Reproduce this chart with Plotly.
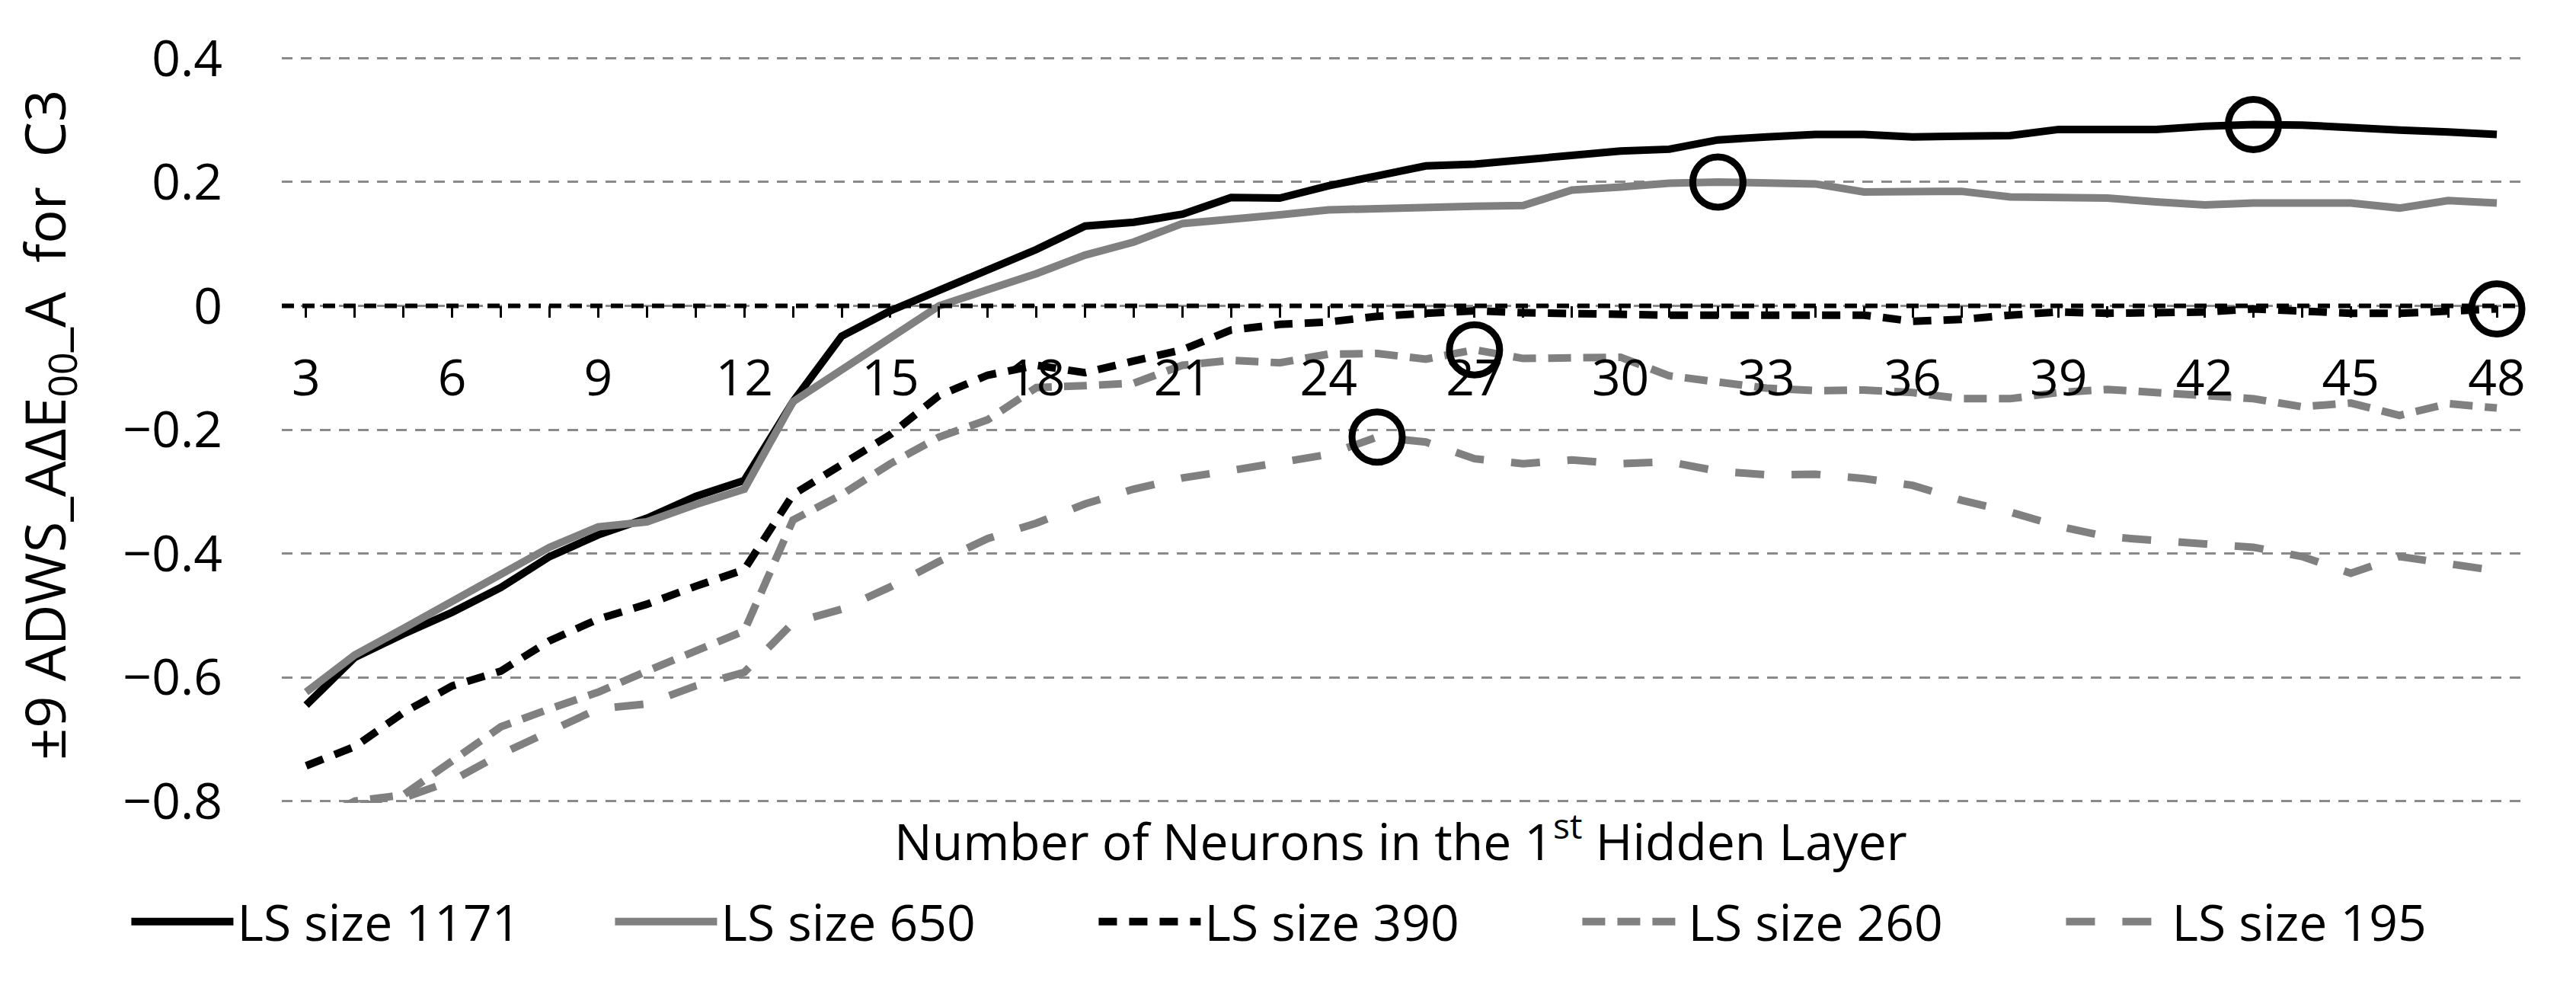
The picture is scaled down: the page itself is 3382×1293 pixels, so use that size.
import plotly.graph_objects as go

neurons = list(range(3, 49))

ls1171 = [-0.645, -0.568, -0.530, -0.495, -0.455, -0.405, -0.370, -0.343, -0.308, -0.282,
          -0.155, -0.049, -0.008, 0.026, 0.060, 0.091, 0.129, 0.135, 0.148, 0.175,
          0.174, 0.194, 0.210, 0.226, 0.229, 0.237, 0.245, 0.250, 0.253, 0.268,
          0.273, 0.277, 0.277, 0.273, 0.274, 0.275, 0.285, 0.285, 0.285, 0.290,
          0.293, 0.292, 0.287, 0.284, 0.281, 0.277]

ls650 = [-0.624, -0.564, -0.521, -0.477, -0.436, -0.390, -0.357, -0.349, -0.321, -0.296,
         -0.155, -0.103, -0.052, 0.000, 0.026, 0.052, 0.082, 0.103, 0.133, 0.139,
         0.147, 0.155, 0.158, 0.160, 0.161, 0.162, 0.187, 0.192, 0.198, 0.200,
         0.197, 0.197, 0.184, 0.185, 0.185, 0.176, 0.176, 0.174, 0.168, 0.163,
         0.166, 0.165, 0.166, 0.158, 0.170, 0.166]

ls390 = [-0.743, -0.712, -0.657, -0.614, -0.590, -0.541, -0.506, -0.482, -0.453, -0.426,
         -0.305, -0.258, -0.208, -0.145, -0.112, -0.096, -0.108, -0.089, -0.071, -0.039,
         -0.030, -0.026, -0.017, -0.012, -0.008, -0.011, -0.013, -0.014, -0.015, -0.015,
         -0.015, -0.012, -0.015, -0.025, -0.022, -0.015, -0.010, -0.012, -0.012, -0.010,
         -0.005, -0.010, -0.012, -0.012, -0.010, -0.005]

ls260 = [-0.840, -0.800, -0.790, -0.735, -0.680, -0.651, -0.624, -0.590, -0.557, -0.525,
         -0.346, -0.305, -0.255, -0.212, -0.184, -0.132, -0.129, -0.125, -0.096, -0.088,
         -0.092, -0.078, -0.077, -0.086, -0.071, -0.085, -0.084, -0.083, -0.113, -0.124,
         -0.133, -0.137, -0.136, -0.140, -0.150, -0.150, -0.140, -0.135, -0.141, -0.145,
         -0.150, -0.163, -0.157, -0.177, -0.158, -0.165]

ls195 = [-0.860, -0.810, -0.795, -0.767, -0.724, -0.686, -0.651, -0.643, -0.614, -0.592,
         -0.512, -0.490, -0.454, -0.413, -0.376, -0.351, -0.320, -0.296, -0.278, -0.266,
         -0.253, -0.240, -0.212, -0.220, -0.247, -0.255, -0.249, -0.255, -0.252, -0.267,
         -0.273, -0.272, -0.279, -0.290, -0.314, -0.333, -0.356, -0.373, -0.379, -0.383,
         -0.390, -0.405, -0.432, -0.405, -0.415, -0.428]

series_names = ["LS size 1171", "LS size 650", "LS size 390", "LS size 260", "LS size 195"]

# best point of each series (circled in the original)
best_neurons = {"LS size 1171": 43, "LS size 650": 32, "LS size 390": 48,
                "LS size 260": 27, "LS size 195": 25}

x_tick_vals = neurons
x_tick_text = [str(n) if n % 3 == 0 else "" for n in neurons]
y_tick_vals = [-0.8, -0.6, -0.4, -0.2, 0.0, 0.2, 0.4]
y_tick_text = ["\u22120.8", "\u22120.6", "\u22120.4", "\u22120.2", "0", "0.2", "0.4"]

FONT = "'Open Sans', 'Noto Sans', sans-serif"
FS = 66
GRAY = "#808080"

data = {"LS size 1171": ls1171, "LS size 650": ls650, "LS size 390": ls390,
        "LS size 260": ls260, "LS size 195": ls195}
styles = {
    "LS size 1171": dict(color="#000000", width=10, dash="solid"),
    "LS size 650": dict(color=GRAY, width=10, dash="solid"),
    "LS size 390": dict(color="#000000", width=10, dash="24px,16px"),
    "LS size 260": dict(color=GRAY, width=10, dash="30px,16px"),
    "LS size 195": dict(color=GRAY, width=10, dash="38px,36px"),
}

fig = go.Figure()
for name in series_names:
    fig.add_trace(go.Scatter(x=neurons, y=data[name], mode="lines", name=name,
                             line=styles[name]))

bx = [best_neurons[n] for n in series_names]
by = [data[n][neurons.index(best_neurons[n])] for n in series_names]
fig.add_trace(go.Scatter(x=bx, y=by, mode="markers", showlegend=False,
                         marker=dict(symbol="circle-open", size=66,
                                     line=dict(color="#000000", width=9),
                                     color="#000000"),
                         cliponaxis=False))

# dashed horizontal category axis at y = 0
fig.add_shape(type="line", xref="paper", yref="y", x0=0, x1=1, y0=0, y1=0,
              line=dict(color="#000000", width=6, dash="16px,11px"), layer="above")

fig.update_layout(
    width=3382, height=1293,
    margin=dict(l=362, r=80, t=66, b=247),
    paper_bgcolor="white", plot_bgcolor="white",
    font=dict(family=FONT, size=FS, color="#000000"),
    xaxis=dict(range=[2.5, 48.5], tickmode="array", tickvals=x_tick_vals,
               ticktext=x_tick_text, ticks="outside", ticklen=15, tickwidth=3,
               tickcolor="#000000", showgrid=False, zeroline=False, showline=False,
               anchor="free", position=0.803 / 1.206, ticklabelstandoff=22,
               tickfont=dict(size=FS)),
    yaxis=dict(range=[-0.803, 0.403], tickmode="array", tickvals=y_tick_vals,
               ticktext=y_tick_text, showgrid=True, gridcolor="#8a8a8a", gridwidth=3,
               griddash="14px,11px", zeroline=False, showline=False, ticks="",
               ticklabelstandoff=77, tickfont=dict(size=FS)),
    legend=dict(orientation="h", x=-0.0689, y=-0.159, xanchor="left", yanchor="middle",
                entrywidth=486, entrywidthmode="pixels", font=dict(size=FS),
                itemwidth=134, bgcolor="rgba(0,0,0,0)"),
    annotations=[
        dict(text="Number of Neurons in the 1<sup>st</sup> Hidden Layer", xref="paper",
             yref="paper", x=0.4997, y=-0.0465, showarrow=False, xanchor="center",
             yanchor="middle", font=dict(size=FS)),
        dict(text="\u00b19 ADWS_A\u0394E<sub>00</sub>_A  for  C3", xref="paper",
             yref="paper", x=-0.1048, y=0.506, textangle=-90, showarrow=False,
             xanchor="center", yanchor="middle", font=dict(size=74)),
    ],
)

fig.write_html("out.html")
